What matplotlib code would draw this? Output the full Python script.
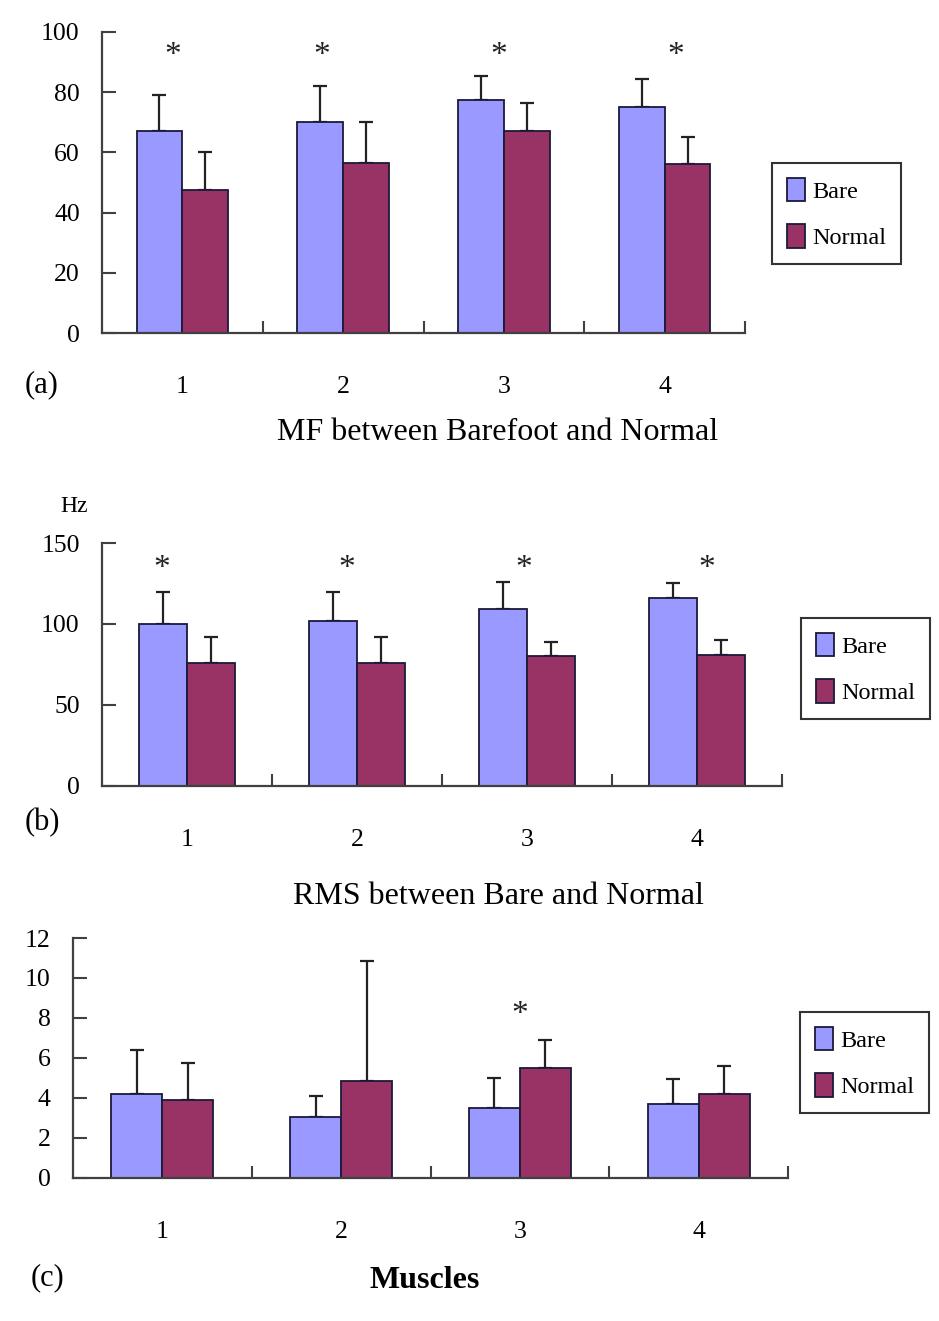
import numpy as np
import matplotlib
matplotlib.use('Agg')
import matplotlib.pyplot as plt

plt.rcParams['font.family'] = ['Liberation Serif', 'DejaVu Serif']

muscles = ['1', '2', '3', '4']
series = ['Bare', 'Normal']

# (a) MF
mf_bare = [67, 70, 77.5, 75]
mf_bare_sd = [12, 12, 8, 9.5]
mf_normal = [47.5, 56.5, 67, 56]
mf_normal_sd = [12.5, 13.5, 9.5, 9]
mf_star = [1, 1, 1, 1]

# (b) RMS in Hz
rms_bare = [100, 102, 109.5, 116]
rms_bare_sd = [20, 18, 16.5, 9.5]
rms_normal = [76, 76, 80, 81]
rms_normal_sd = [16, 16, 9, 9]
rms_star = [1, 1, 1, 1]

# (c)
c_bare = [4.2, 3.05, 3.5, 3.7]
c_bare_sd = [2.2, 1.05, 1.5, 1.25]
c_normal = [3.9, 4.85, 5.5, 4.2]
c_normal_sd = [1.85, 6.0, 1.4, 1.4]
c_star = [0, 0, 1, 0]

BARE = '#9999ff'
NORMAL = '#993366'
EDGE = '#1a1a3a'
AXC = '#404040'

fig = plt.figure(figsize=(9.39, 13.21), dpi=100)
W, H = 939.0, 1321.0


def panel(rect, bare, bare_sd, normal, normal_sd, stars, ymax, ystep, star_y, star_dx,
          fs, leg_xy):
    l, t, r, b = rect
    ax = fig.add_axes([l / W, 1 - b / H, (r - l) / W, (b - t) / H])
    x = np.arange(1, len(muscles) + 1)
    w = 0.285
    ax.bar(x - w / 2, bare, w, color=BARE, edgecolor=EDGE, linewidth=1.3, label=series[0], zorder=2)
    ax.bar(x + w / 2, normal, w, color=NORMAL, edgecolor=EDGE, linewidth=1.3, label=series[1], zorder=2)
    ax.errorbar(x - w / 2, bare, yerr=[np.zeros(4), bare_sd], fmt='none', ecolor='#222222',
                elinewidth=1.6, capsize=5, capthick=1.6, zorder=1)
    ax.errorbar(x + w / 2, normal, yerr=[np.zeros(4), normal_sd], fmt='none', ecolor='#222222',
                elinewidth=1.6, capsize=5, capthick=1.6, zorder=1)
    for i, s in enumerate(stars):
        if s:
            ax.text(x[i] + star_dx[i], star_y, '*', ha='center', va='center', fontsize=24,
                    color='#222222')
    ax.set_xlim(0.5, len(muscles) + 0.5)
    ax.set_ylim(0, ymax)
    ax.set_yticks(np.arange(0, ymax + 0.1, ystep))
    ax.set_xticks(np.arange(1.5, len(muscles) + 0.6, 1))
    ax.set_xticklabels([])
    ax.set_xticks(x, minor=True)
    ax.set_xticklabels(muscles, minor=True)
    ax.tick_params(axis='x', which='major', direction='in', length=9, width=1.5, color=AXC)
    ax.tick_params(axis='x', which='minor', length=0, pad=31, labelsize=fs)
    ax.tick_params(axis='y', direction='in', length=10, width=1.5, color=AXC, pad=16, labelsize=fs)
    for sp in ['top', 'right']:
        ax.spines[sp].set_visible(False)
    for sp in ['left', 'bottom']:
        ax.spines[sp].set_color(AXC)
        ax.spines[sp].set_linewidth(1.6)
    leg = ax.legend(loc='upper left', bbox_to_anchor=(leg_xy[0] / W, 1 - leg_xy[1] / H),
                    bbox_transform=fig.transFigure, borderaxespad=0, fancybox=False,
                    edgecolor='black', fontsize=17.5, handlelength=0.75, handleheight=1.1,
                    handletextpad=0.3, labelspacing=0.9, borderpad=0.6)
    leg.get_frame().set_linewidth(1.5)
    return ax


panel((102, 32, 745, 333), mf_bare, mf_bare_sd, mf_normal, mf_normal_sd, mf_star,
      100, 20, 92, [-0.06, -0.13, -0.03, 0.07], 18.5, (772, 163))
panel((102, 543, 782, 786), rms_bare, rms_bare_sd, rms_normal, rms_normal_sd, rms_star,
      150, 50, 134, [-0.15, -0.06, -0.02, 0.06], 18.5, (801, 618))
panel((73, 938, 788, 1178), c_bare, c_bare_sd, c_normal, c_normal_sd, c_star,
      12, 2, 8.15, [0, 0, 0, 0], 18.5, (800, 1012))

fig.text(42 / W, 1 - 385 / H, '(a)', ha='center', va='center', fontsize=22)
fig.text(42 / W, 1 - 823 / H, '(b)', ha='center', va='center', fontsize=22)
fig.text(47 / W, 1 - 1278 / H, '(c)', ha='center', va='center', fontsize=22)
fig.text(498 / W, 1 - 432 / H, 'MF between Barefoot and Normal', ha='center', va='center', fontsize=23)
fig.text(498 / W, 1 - 897 / H, 'RMS between Bare and Normal', ha='center', va='center', fontsize=23)
fig.text(74 / W, 1 - 507 / H, 'Hz', ha='center', va='center', fontsize=17)
fig.text(425 / W, 1 - 1281 / H, 'Muscles', ha='center', va='center', fontsize=23, fontweight='bold')

fig.savefig('out.png', dpi=100)
